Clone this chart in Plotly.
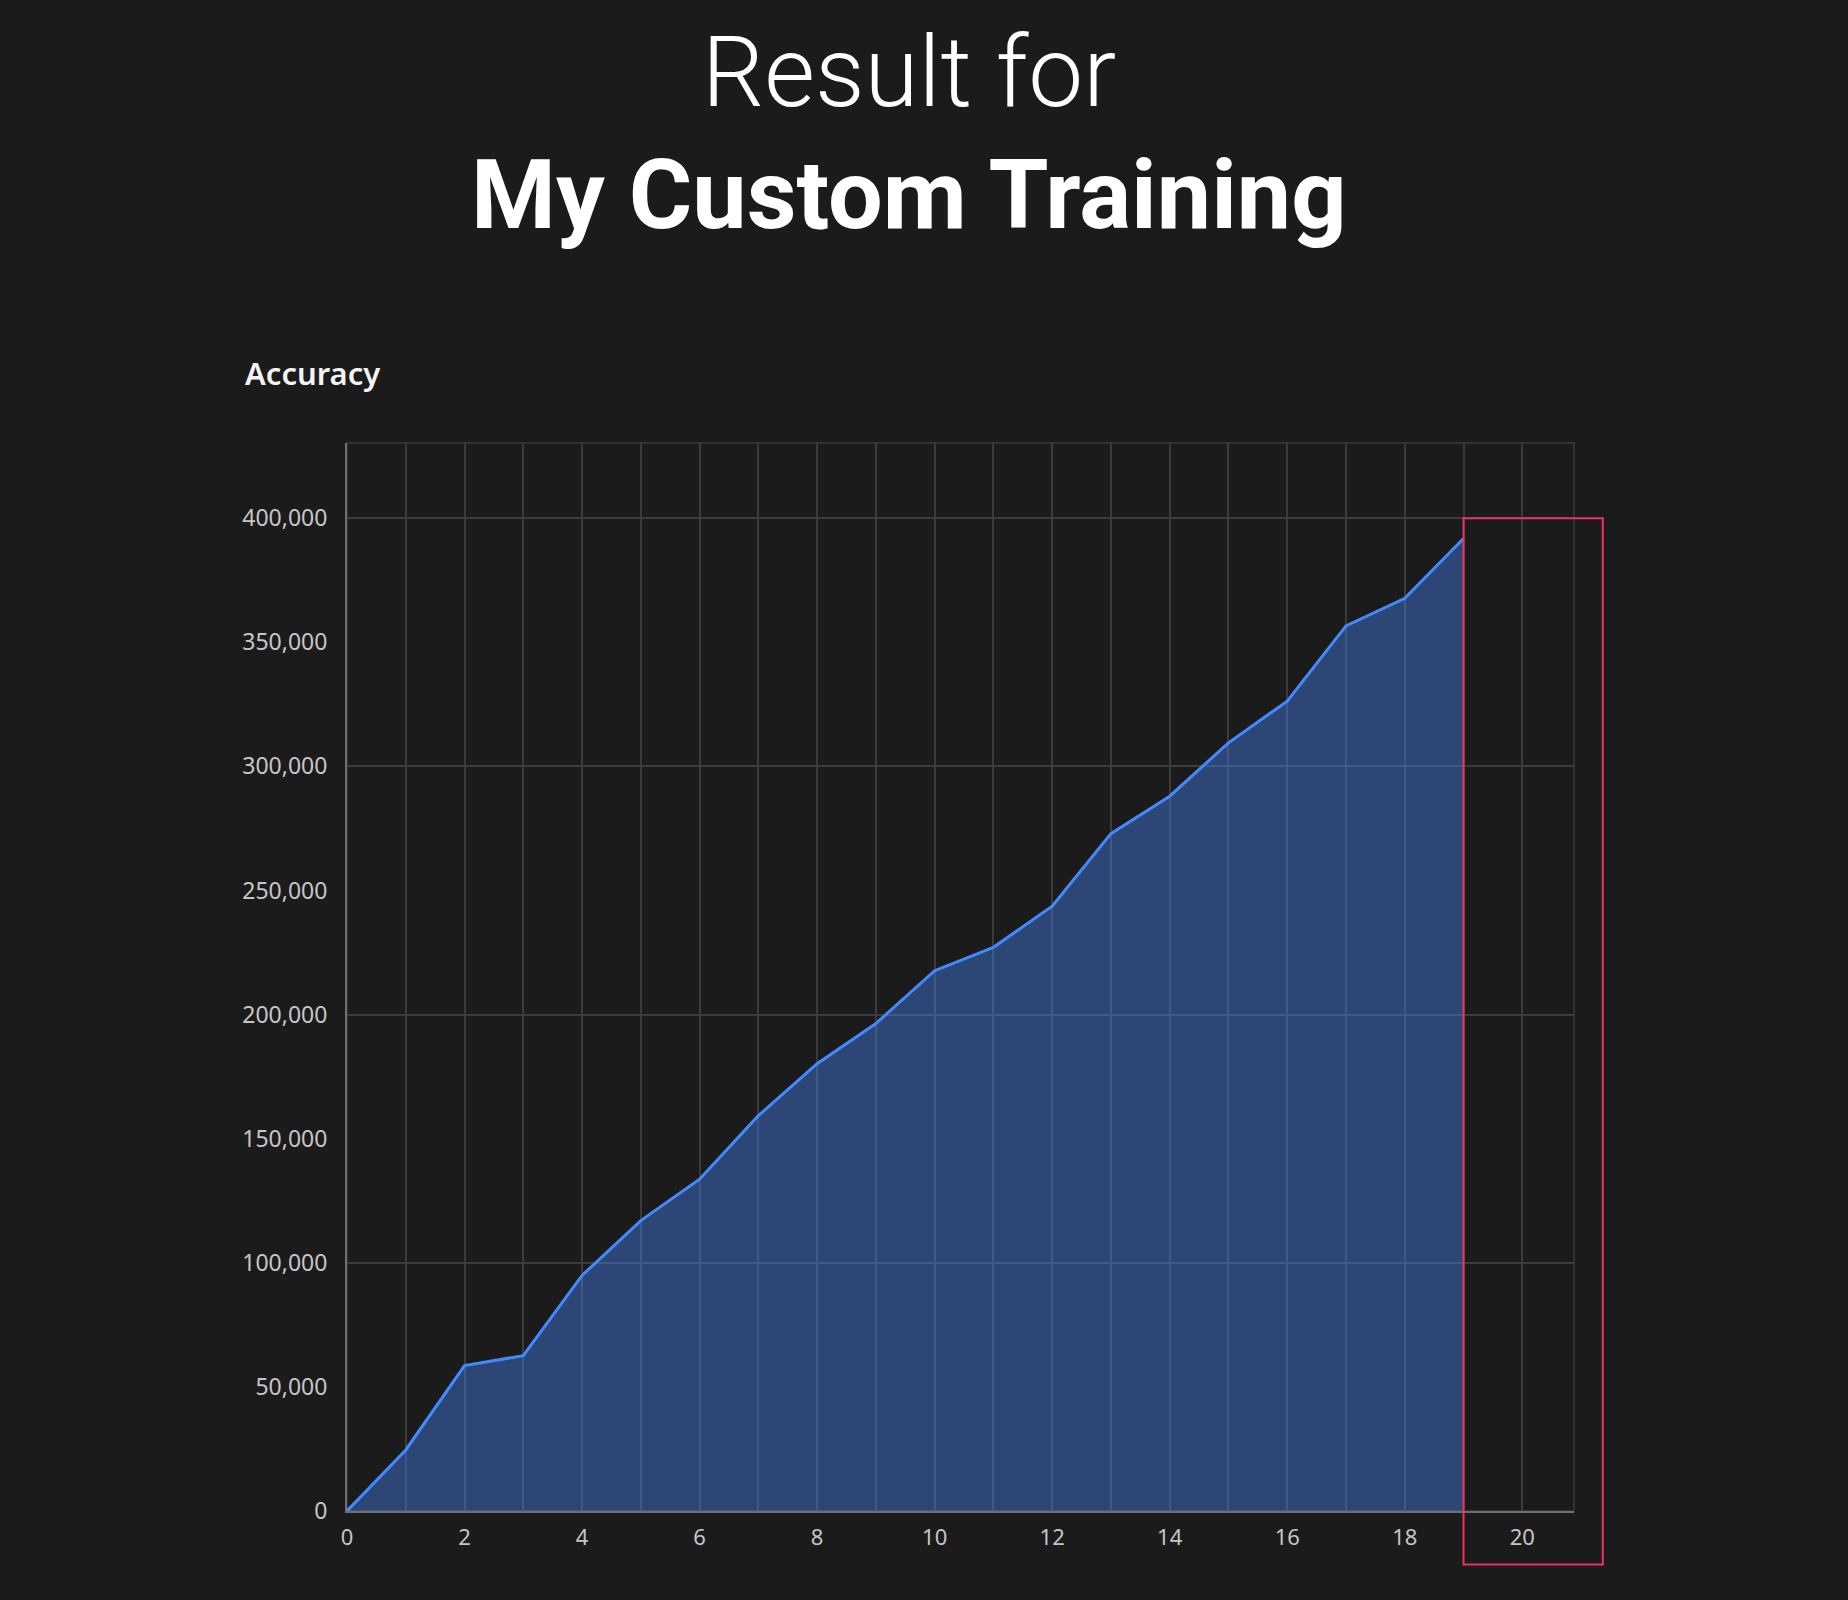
import plotly.graph_objects as go

# ---- data ----
epochs = list(range(20))
accuracy = [0, 24600, 58600, 62600, 94900, 117000, 133700, 159300, 180200, 196400,
            217700, 227100, 243700, 272900, 288000, 309500, 326300, 356600, 367700, 391800]
title_line1 = "Result for"
title_line2 = "My Custom Training"
y_label = "Accuracy"

x_range = [0, 20.88]
y_range = [0, 430300]
highlight_x = [19, 21.37]
highlight_y = [-21550, 400000]

BG = "#1b1b1b"
GRID = "#3b3b3b"
AXIS = "#6f6f6f"
TICK = "#c6c6c6"
LINE = "#4589ff"
FILL = "rgba(69,137,255,0.40)"
RED = "#f0325f"
FONT = "Noto Sans"
TFONT = "Roboto"

W, H = 1848, 1600
ML, MR, MT, MB = 347, 274, 443, 89

fig = go.Figure()
fig.add_trace(go.Scatter(
    x=epochs, y=accuracy, mode="lines", fill="tozeroy",
    fillcolor=FILL, line=dict(color=LINE, width=3), hoverinfo="skip",
    showlegend=False))
# invisible trace to carry the 100k grid axis
fig.add_trace(go.Scatter(
    x=epochs, y=accuracy, mode="lines", yaxis="y2",
    line=dict(width=0, color="rgba(0,0,0,0)"), hoverinfo="skip", showlegend=False))


def px_x(v):
    return (v - x_range[0]) / (x_range[1] - x_range[0])


def px_y(v):
    return (v - y_range[0]) / (y_range[1] - y_range[0])


ph = H - MT - MB
pw = W - ML - MR


def pap_y(py):
    return (H - MB - py) / ph


def pap_x(px):
    return (px - ML) / pw


fig.update_layout(
    width=W, height=H, autosize=False,
    paper_bgcolor=BG, plot_bgcolor=BG,
    margin=dict(l=ML, r=MR, t=MT, b=MB, pad=0),
    font=dict(family=FONT, color=TICK),
    xaxis=dict(
        range=x_range, dtick=2, tick0=0, showgrid=True, gridcolor=GRID, gridwidth=1.5,
        minor=dict(dtick=1, showgrid=True, gridcolor=GRID, gridwidth=1.5),
        zeroline=False, showline=True, linecolor=AXIS, linewidth=2,
        ticks="", ticklabelstandoff=6, tickfont=dict(size=22, color=TICK, family=FONT),
        layer="below traces", fixedrange=True,
    ),
    yaxis=dict(
        range=y_range, dtick=50000, tick0=0, tickformat=",d", showgrid=False,
        zeroline=False, showline=True, linecolor=AXIS, linewidth=2,
        ticks="", ticklabelstandoff=13, tickfont=dict(size=23, color=TICK, family=FONT),
        layer="below traces", fixedrange=True,
    ),
    yaxis2=dict(
        overlaying="y", matches="y", range=y_range, dtick=100000, tick0=0,
        showgrid=True, gridcolor=GRID, gridwidth=1.5, showticklabels=False,
        zeroline=False, showline=False, ticks="", side="left", fixedrange=True,
    ),
    shapes=[
        dict(type="rect", xref="x domain", yref="y domain", x0=0, x1=1, y0=0, y1=1,
             line=dict(color=GRID, width=1.5), fillcolor="rgba(0,0,0,0)", layer="below"),
        dict(type="rect", xref="paper", yref="paper",
             x0=px_x(highlight_x[0]), x1=px_x(highlight_x[1]),
             y0=px_y(highlight_y[0]), y1=px_y(highlight_y[1]),
             line=dict(color=RED, width=2), fillcolor="rgba(0,0,0,0)", layer="above"),
    ],
    annotations=[
        dict(text=title_line1, xref="paper", yref="paper", x=pap_x(909), y=pap_y(72),
             xanchor="center", yanchor="middle", showarrow=False,
             font=dict(family=TFONT, size=98, color="#ffffff", weight=300)),
        dict(text=title_line2, xref="paper", yref="paper", x=pap_x(909), y=pap_y(195),
             xanchor="center", yanchor="middle", showarrow=False,
             font=dict(family=TFONT, size=97, color="#ffffff", weight=700)),
        dict(text=y_label, xref="paper", yref="paper", x=pap_x(243), y=pap_y(373),
             xanchor="left", yanchor="middle", showarrow=False,
             font=dict(family=FONT, size=31, color="#f4f4f4", weight=600)),
    ],
)

fig.write_html(
    "out.html",
    config={"displayModeBar": False},
    post_script="document.body.style.margin='0';document.body.style.background='#1b1b1b';",
)
